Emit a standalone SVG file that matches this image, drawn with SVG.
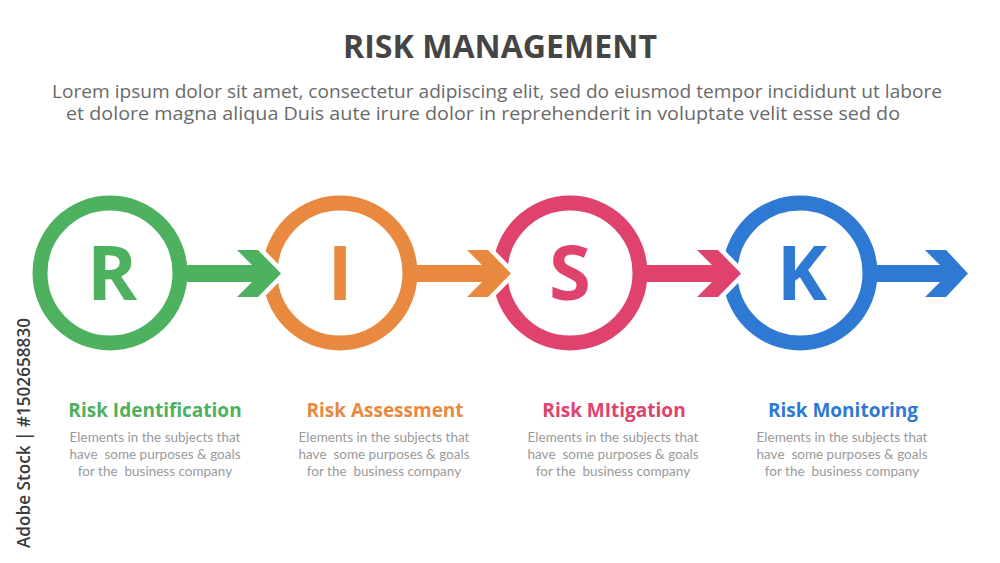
<svg xmlns="http://www.w3.org/2000/svg" width="1000" height="563" viewBox="0 0 1000 563">
<defs>
<style>
.ring{fill:none;stroke-width:15}
.letter{font-family:"Open Sans","Liberation Sans",sans-serif;font-weight:700;font-size:76px;text-anchor:middle}
.label{font-family:"Open Sans","Liberation Sans",sans-serif;font-weight:700;font-size:19px;text-anchor:middle}
.desc{font-family:Lato,"Liberation Sans",sans-serif;font-size:13.5px;fill:#9a9a9a;text-anchor:middle;white-space:pre}
.halo{fill:#fff;stroke:#fff;stroke-width:9;stroke-linejoin:round}
.g{fill:#4db15f;stroke:#4db15f}
.o{fill:#e8893f;stroke:#e8893f}
.p{fill:#e0426e;stroke:#e0426e}
.b{fill:#2e79d3;stroke:#2e79d3}
</style>
</defs>
<rect width="1000" height="563" fill="#ffffff"/>
<text x="500" y="58" font-family="'Open Sans','Liberation Sans',sans-serif" font-weight="700" font-size="32" fill="#454545" text-anchor="middle" textLength="314" lengthAdjust="spacingAndGlyphs">RISK MANAGEMENT</text>
<text x="497" y="98" font-family="'Open Sans','Liberation Sans',sans-serif" font-size="18" fill="#6a6a6a" text-anchor="middle" textLength="890" lengthAdjust="spacingAndGlyphs">Lorem ipsum dolor sit amet, consectetur adipiscing elit, sed do eiusmod tempor incididunt ut labore</text>
<text x="483" y="120" font-family="'Open Sans','Liberation Sans',sans-serif" font-size="18" fill="#6a6a6a" text-anchor="middle" textLength="834" lengthAdjust="spacingAndGlyphs">et dolore magna aliqua Duis aute irure dolor in reprehenderit in voluptate velit esse sed do</text>

<g id="node-r">
<circle class="ring g" style="fill:none" cx="110" cy="273" r="70"/>
<text class="letter g" style="stroke:none" x="112" y="300">R</text>
</g>
<g id="node-i">
<circle class="ring o" style="fill:none" cx="340" cy="273" r="70"/>
<text class="letter o" style="stroke:none" x="340" y="300">I</text>
</g>
<g id="node-s">
<circle class="ring p" style="fill:none" cx="570" cy="273" r="70"/>
<text class="letter p" style="stroke:none" x="570" y="300">S</text>
</g>
<g id="node-k">
<circle class="ring b" style="fill:none" cx="800" cy="273" r="70"/>
<text class="letter b" style="stroke:none" x="802" y="300">K</text>
</g>

<g id="connectors">
<g transform="translate(110,0)">
<path class="halo" d="M127,250 H148 L171,273.5 L148,297 H127 Z"/>
<path class="g" style="stroke:none" d="M72,265 H142 L127,250 H148 L171,273.5 L148,297 H127 L142,282 H72 Z"/>
</g>
<g transform="translate(340,0)">
<path class="halo" d="M127,250 H148 L171,273.5 L148,297 H127 Z"/>
<path class="o" style="stroke:none" d="M72,265 H142 L127,250 H148 L171,273.5 L148,297 H127 L142,282 H72 Z"/>
</g>
<g transform="translate(570,0)">
<path class="halo" d="M127,250 H148 L171,273.5 L148,297 H127 Z"/>
<path class="p" style="stroke:none" d="M72,265 H142 L127,250 H148 L171,273.5 L148,297 H127 L142,282 H72 Z"/>
</g>
<g transform="translate(800,0)">
<path class="b" style="stroke:none" d="M72,265 H140 L125,250 H146 L168,273.5 L146,297 H125 L140,282 H72 Z"/>
</g>
</g>

<g id="label-1">
<text class="label" fill="#4db15f" x="155" y="417">Risk Identification</text>
<text class="desc" x="155" y="442">Elements in the subjects that</text>
<text class="desc" x="155" y="459">have  some purposes &amp; goals</text>
<text class="desc" x="155" y="476">for the  business company</text>
</g>
<g id="label-2">
<text class="label" fill="#e8893f" x="385" y="417">Risk Assessment</text>
<text class="desc" x="384" y="442">Elements in the subjects that</text>
<text class="desc" x="384" y="459">have  some purposes &amp; goals</text>
<text class="desc" x="384" y="476">for the  business company</text>
</g>
<g id="label-3">
<text class="label" fill="#e0426e" x="614" y="417">Risk MItigation</text>
<text class="desc" x="613" y="442">Elements in the subjects that</text>
<text class="desc" x="613" y="459">have  some purposes &amp; goals</text>
<text class="desc" x="613" y="476">for the  business company</text>
</g>
<g id="label-4">
<text class="label" fill="#2e79d3" x="843" y="417">Risk Monitoring</text>
<text class="desc" x="842" y="442">Elements in the subjects that</text>
<text class="desc" x="842" y="459">have  some purposes &amp; goals</text>
<text class="desc" x="842" y="476">for the  business company</text>
</g>

<text transform="translate(30,433) rotate(-90)" font-family="'Open Sans','Liberation Sans',sans-serif" font-weight="600" font-size="18" fill="#3a3a3a" text-anchor="middle" textLength="230" lengthAdjust="spacingAndGlyphs">Adobe Stock | #1502658830</text>
</svg>
